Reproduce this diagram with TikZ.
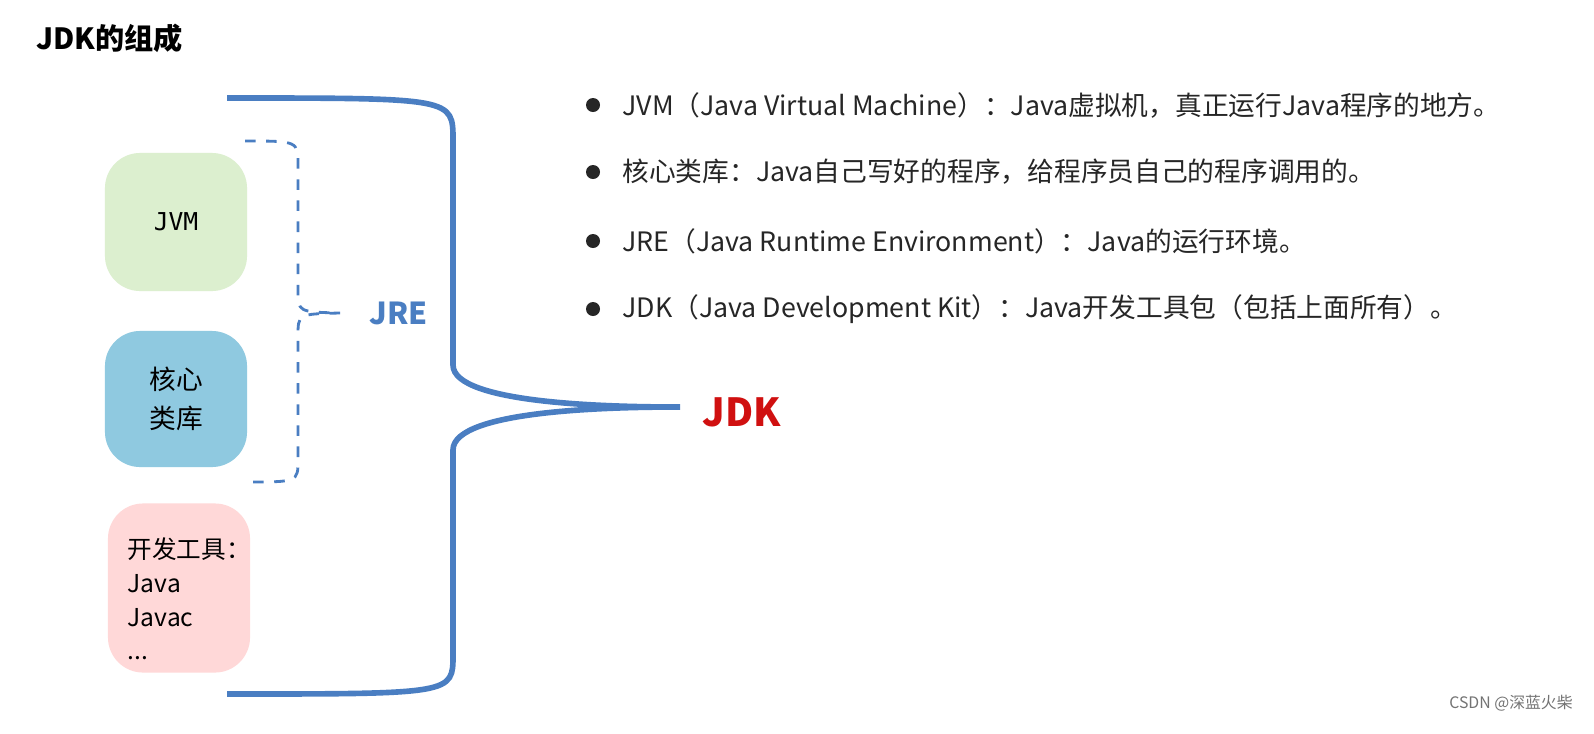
\documentclass[tikz,border=0pt]{standalone}
\usepackage{fontspec}
\setmainfont{Noto Sans CJK SC}
\newfontfamily\monof{DejaVu Sans Mono}
\definecolor{braceblue}{HTML}{4A7EC2}
\definecolor{jvmgreen}{HTML}{DCEFCF}
\definecolor{libblue}{HTML}{8FC9E0}
\definecolor{toolpink}{HTML}{FFD8D8}
\definecolor{jdkred}{HTML}{D01010}
\begin{document}
\begin{tikzpicture}[x=0.01cm,y=-0.01cm,
  comp/.style={rounded corners=10pt,draw=none,minimum width=1.42cm},
  bul/.style={anchor=west,font=\fontsize{7.6}{9}\selectfont,text=black!85},
  dot/.style={circle,fill=black!85,inner sep=0pt,minimum size=0.14cm}]
\useasboundingbox (0,0) rectangle (1594,733);
\fill[white] (0,0) rectangle (1594,733);
\node[anchor=west,font=\fontsize{8.3}{10}\selectfont\bfseries] (title) at (24,38) {JDK的组成};
\node[comp,fill=jvmgreen,minimum height=1.38cm] (jvm) at (176,222) {\monof\fontsize{7}{8}\selectfont JVM};
\node[comp,fill=libblue,minimum height=1.36cm,align=center,font=\fontsize{7.6}{11}\selectfont] (lib) at (176,399) {核心\\类库};
\node[comp,fill=toolpink,minimum height=1.69cm,minimum width=1.42cm] (tool) at (179,588) {};
\node[anchor=north west,align=left,inner sep=0pt,font=\fontsize{7}{9.6}\selectfont] (tooltxt) at (127,537) {开发工具：\\Java\\Javac\\...};
\coordinate (jretip) at (340,313);
\draw[braceblue,thick,dashed] (245,141) .. controls (298,141) .. (298,165) -- (298,290) .. controls (298,312) .. (jretip)
  .. controls (298,314) .. (298,336) -- (298,460) .. controls (298,482) .. (245,482);
\node[anchor=west,text=braceblue,font=\fontsize{8.6}{10}\selectfont\bfseries] (jre) at (357,313) {JRE};
\coordinate (jdktip) at (680,407);
\draw[braceblue,line width=1.6pt] (227,98) .. controls (453,98) .. (453,140) -- (453,365) .. controls (453,405) and (620,407) .. (jdktip)
  .. controls (620,407) and (453,409) .. (453,450) -- (453,655) .. controls (453,694) .. (227,694);
\node[anchor=west,text=jdkred,font=\fontsize{11}{13}\selectfont\bfseries] (jdk) at (690,412) {JDK};
\foreach \y/\t [count=\i] in {105/{JVM（Java Virtual Machine）：Java虚拟机，真正运行Java程序的地方。},
  172/{核心类库：Java自己写好的程序，给程序员自己的程序调用的。},
  241/{JRE（Java Runtime Environment）：Java的运行环境。},
  309/{JDK（Java Development Kit）：Java开发工具包（包括上面所有）。}} {
  \node[dot] (d\i) at (593,\y) {};
  \node[bul] (b\i) at (610,\y) {\t};
}
\node[anchor=east,text=black!55,font=\fontsize{4.5}{5}\selectfont] (wm) at (1585,703) {CSDN @深蓝火柴};
\end{tikzpicture}
\end{document}
